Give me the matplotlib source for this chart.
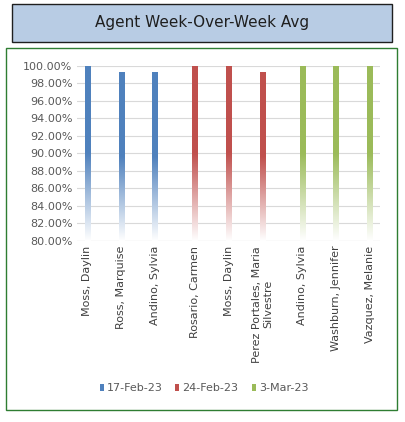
import numpy as np
import matplotlib.pyplot as plt
from matplotlib.patches import Rectangle, FancyBboxPatch
from matplotlib.colors import LinearSegmentedColormap

agents = ["Moss, Daylin", "Ross, Marquise", "Andino, Sylvia",
          "Rosario, Carmen", "Moss, Daylin", "Perez Portales, Maria\nSilvestre",
          "Andino, Sylvia", "Washburn, Jennifer", "Vazquez, Melanie"]
weeks = ["17-Feb-23", "24-Feb-23", "3-Mar-23"]
week_of_bar = [0, 0, 0, 1, 1, 1, 2, 2, 2]
values = [100.0, 99.2, 99.2, 100.0, 100.0, 99.2, 100.0, 100.0, 100.0]
colors = ["#4f81bd", "#c0504d", "#9bbb59"]

positions = [0, 1, 2, 3.18, 4.18, 5.18, 6.35, 7.35, 8.35]

fig = plt.figure(figsize=(4.06, 4.22), dpi=100)
ax = fig.add_axes([0.19, 0.429, 0.746, 0.415])
ax.set_xlim(-0.3, 8.65)
ax.set_ylim(80, 100)

bw = 0.15
grad = np.linspace(0, 1, 256).reshape(-1, 1)
for x, v, w in zip(positions, values, week_of_bar):
    cmap = LinearSegmentedColormap.from_list("g", ["#ffffff", colors[w], colors[w]])
    ax.imshow(grad, cmap=cmap, aspect="auto", origin="lower",
              extent=[x - bw / 2, x + bw / 2, 80, v], zorder=3)

ax.set_yticks(np.arange(80, 100.1, 2))
ax.set_yticklabels([f"{t:.2f}%" for t in np.arange(80, 100.1, 2)], fontsize=8, color="#595959")
ax.set_xticks(positions)
ax.set_xticklabels(agents, rotation=90, fontsize=8, color="#404040", va="top", ha="center")
ax.tick_params(length=0)
ax.grid(axis="y", color="#d9d9d9", lw=0.8)
for s in ax.spines.values():
    s.set_visible(False)
ax.axhline(80, color="#d9d9d9", lw=0.8)

# title box
fig.patches.append(FancyBboxPatch((12 / 406, 1 - 42 / 422), 380 / 406, 38 / 422,
                                  boxstyle="square,pad=0", transform=fig.transFigure,
                                  facecolor="#b8cce4", edgecolor="#1f1f1f", lw=1))
fig.text(202 / 406, 1 - 23 / 422, "Agent Week-Over-Week Avg", ha="center", va="center",
         fontsize=11, color="#1f1f1f")

# chart frame
fig.patches.append(Rectangle((6 / 406, 1 - 410 / 422), 391 / 406, 362 / 422,
                             transform=fig.transFigure, fill=False, edgecolor="#2e7d32", lw=1))

# legend
lx = [100, 175, 252]
for x, wk, c in zip(lx, weeks, colors):
    fig.patches.append(Rectangle((x / 406, 1 - 391 / 422), 4 / 406, 7 / 422,
                                 transform=fig.transFigure, facecolor=c, edgecolor="none"))
    fig.text((x + 7) / 406, 1 - 388 / 422, wk, fontsize=8, color="#595959", va="center")

fig.savefig("out.png", dpi=100)
